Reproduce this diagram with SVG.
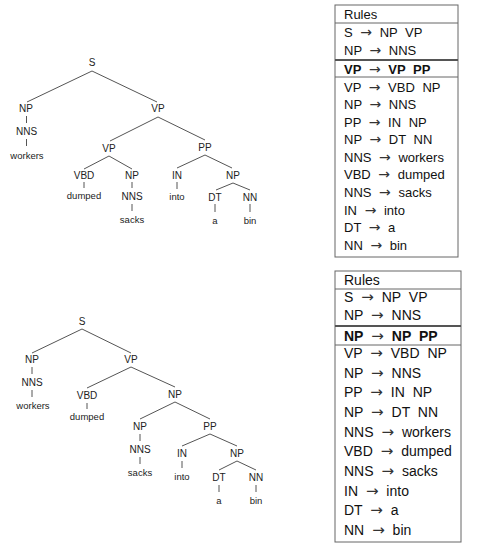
<svg xmlns="http://www.w3.org/2000/svg" width="503" height="555" viewBox="0 0 503 555">
<style>
.n text{font-family:"Liberation Sans",Arial,sans-serif;font-size:10px;text-anchor:middle;fill:#222}
.n text.w{font-size:9.5px}
.edges line{stroke:#555;stroke-width:1}
.box{fill:#fff;stroke:#666;stroke-width:1}
.sep{stroke:#666;stroke-width:1}
.sep2{stroke:#555;stroke-width:1.8}
.t1 text{font-family:"Liberation Sans",Arial,sans-serif;font-size:13px;fill:#111;word-spacing:4px}
.t2 text{font-family:"Liberation Sans",Arial,sans-serif;font-size:14px;fill:#111;word-spacing:4px}
.t1 .ar{font-family:"DejaVu Sans",sans-serif;font-size:14px;font-weight:normal;fill:#333}
.t2 .ar{font-family:"DejaVu Sans",sans-serif;font-size:15px;font-weight:normal;fill:#333}
.b{font-weight:bold}
</style>
<rect width="503" height="555" fill="#fff"/>

<!-- top tree connectors -->
<g id="top-edges" class="edges">
<line x1="92" y1="71" x2="27" y2="102"/>
<line x1="92" y1="71" x2="157" y2="102"/>
<line x1="26.5" y1="116" x2="26.5" y2="123"/>
<line x1="26.5" y1="139" x2="26.5" y2="146"/>
<line x1="158" y1="117" x2="110" y2="141"/>
<line x1="158" y1="117" x2="205" y2="140"/>
<line x1="109" y1="156" x2="84" y2="169"/>
<line x1="109" y1="156" x2="132" y2="169"/>
<line x1="84" y1="182" x2="84" y2="188"/>
<line x1="132" y1="182" x2="132" y2="188"/>
<line x1="132" y1="204" x2="132" y2="211"/>
<line x1="205" y1="155" x2="177" y2="168"/>
<line x1="205" y1="155" x2="232" y2="168"/>
<line x1="177" y1="182" x2="177" y2="189"/>
<line x1="233" y1="183" x2="216" y2="190"/>
<line x1="233" y1="183" x2="250" y2="190"/>
<line x1="215" y1="204" x2="215" y2="212"/>
<line x1="250" y1="204" x2="250" y2="212"/>
</g>

<!-- top tree nodes -->
<g id="t-S" class="n"><text x="92" y="65.6">S</text></g>
<g id="t-NP1" class="n"><text x="26" y="111.6">NP</text></g>
<g id="t-VP1" class="n"><text x="158" y="111.6">VP</text></g>
<g id="t-NNS1" class="n"><text x="26.5" y="134.6">NNS</text></g>
<g id="t-workers" class="n"><text class="w" x="27" y="159">workers</text></g>
<g id="t-VP2" class="n"><text x="109" y="151.6">VP</text></g>
<g id="t-PP" class="n"><text x="205" y="150.6">PP</text></g>
<g id="t-VBD" class="n"><text x="84" y="178.6">VBD</text></g>
<g id="t-NP3" class="n"><text x="132" y="178.6">NP</text></g>
<g id="t-dumped" class="n"><text class="w" x="84" y="199">dumped</text></g>
<g id="t-NNS3" class="n"><text x="132" y="199.6">NNS</text></g>
<g id="t-sacks" class="n"><text class="w" x="132" y="223">sacks</text></g>
<g id="t-IN" class="n"><text x="177" y="178.6">IN</text></g>
<g id="t-NP4" class="n"><text x="233" y="178.6">NP</text></g>
<g id="t-into" class="n"><text class="w" x="177" y="200">into</text></g>
<g id="t-DT" class="n"><text x="215" y="200.6">DT</text></g>
<g id="t-NN" class="n"><text x="250" y="200.6">NN</text></g>
<g id="t-a" class="n"><text class="w" x="215" y="224">a</text></g>
<g id="t-bin" class="n"><text class="w" x="250" y="224">bin</text></g>

<!-- bottom tree connectors -->
<g id="bottom-edges" class="edges">
<line x1="82" y1="329" x2="32" y2="353"/>
<line x1="82" y1="329" x2="131" y2="353"/>
<line x1="32" y1="367" x2="32" y2="374"/>
<line x1="32" y1="390" x2="32" y2="397"/>
<line x1="131" y1="367" x2="87" y2="388"/>
<line x1="131" y1="367" x2="175" y2="387"/>
<line x1="87" y1="403" x2="87" y2="409"/>
<line x1="175" y1="402" x2="140" y2="419"/>
<line x1="175" y1="402" x2="210" y2="419"/>
<line x1="140" y1="434" x2="140" y2="441"/>
<line x1="140" y1="457" x2="140" y2="464"/>
<line x1="210" y1="434" x2="182" y2="446"/>
<line x1="210" y1="434" x2="237" y2="446"/>
<line x1="182" y1="461" x2="182" y2="468"/>
<line x1="237" y1="461" x2="219" y2="470"/>
<line x1="237" y1="461" x2="256" y2="470"/>
<line x1="219" y1="485" x2="219" y2="492"/>
<line x1="256" y1="485" x2="256" y2="492"/>
</g>

<!-- bottom tree nodes -->
<g id="b-S" class="n"><text x="82" y="324.6">S</text></g>
<g id="b-NP1" class="n"><text x="32" y="362.6">NP</text></g>
<g id="b-VP" class="n"><text x="131" y="362.6">VP</text></g>
<g id="b-NNS1" class="n"><text x="32" y="385.6">NNS</text></g>
<g id="b-workers" class="n"><text class="w" x="33" y="409">workers</text></g>
<g id="b-VBD" class="n"><text x="87" y="398.6">VBD</text></g>
<g id="b-NP2" class="n"><text x="175" y="397.6">NP</text></g>
<g id="b-dumped" class="n"><text class="w" x="87" y="420">dumped</text></g>
<g id="b-NP3" class="n"><text x="140" y="429.6">NP</text></g>
<g id="b-PP" class="n"><text x="210" y="429.6">PP</text></g>
<g id="b-NNS3" class="n"><text x="140" y="452.6">NNS</text></g>
<g id="b-sacks" class="n"><text class="w" x="140" y="476">sacks</text></g>
<g id="b-IN" class="n"><text x="182" y="456.6">IN</text></g>
<g id="b-NP4" class="n"><text x="237" y="456.6">NP</text></g>
<g id="b-into" class="n"><text class="w" x="182" y="480">into</text></g>
<g id="b-DT" class="n"><text x="219" y="480.6">DT</text></g>
<g id="b-NN" class="n"><text x="256" y="480.6">NN</text></g>
<g id="b-a" class="n"><text class="w" x="219" y="504">a</text></g>
<g id="b-bin" class="n"><text class="w" x="256" y="504">bin</text></g>

<!-- top rules table -->
<g id="rules-top" class="t1">
<rect class="box" x="335" y="5" width="123" height="252"/>
<line class="sep" x1="335" y1="23" x2="458" y2="23"/>
<line class="sep2" x1="335" y1="60" x2="458" y2="60"/>
<line class="sep" x1="335" y1="77" x2="458" y2="77"/>
<text x="344" y="18.6">Rules</text>
<text x="344" y="36.6">S <tspan class="ar">→</tspan> NP VP</text>
<text x="344" y="54.6">NP <tspan class="ar">→</tspan> NNS</text>
<text x="344" y="73.6"><tspan class="b">VP</tspan> <tspan class="ar">→</tspan> <tspan class="b">VP PP</tspan></text>
<text x="344" y="91.6">VP <tspan class="ar">→</tspan> VBD NP</text>
<text x="344" y="109.2">NP <tspan class="ar">→</tspan> NNS</text>
<text x="344" y="126.7">PP <tspan class="ar">→</tspan> IN NP</text>
<text x="344" y="144.3">NP <tspan class="ar">→</tspan> DT NN</text>
<text x="344" y="161.8">NNS <tspan class="ar">→</tspan> workers</text>
<text x="344" y="179.4">VBD <tspan class="ar">→</tspan> dumped</text>
<text x="344" y="196.9">NNS <tspan class="ar">→</tspan> sacks</text>
<text x="344" y="214.5">IN <tspan class="ar">→</tspan> into</text>
<text x="344" y="232.1">DT <tspan class="ar">→</tspan> a</text>
<text x="344" y="249.6">NN <tspan class="ar">→</tspan> bin</text>
</g>

<!-- bottom rules table -->
<g id="rules-bottom" class="t2">
<rect class="box" x="335" y="271" width="126" height="271"/>
<line class="sep" x1="335" y1="289" x2="461" y2="289"/>
<line class="sep2" x1="335" y1="326" x2="461" y2="326"/>
<line class="sep" x1="335" y1="345" x2="461" y2="345"/>
<text x="344" y="285">Rules</text>
<text x="344" y="302">S <tspan class="ar">→</tspan> NP VP</text>
<text x="344" y="320">NP <tspan class="ar">→</tspan> NNS</text>
<text x="344" y="341"><tspan class="b">NP</tspan> <tspan class="ar">→</tspan> <tspan class="b">NP PP</tspan></text>
<text x="344" y="358">VP <tspan class="ar">→</tspan> VBD NP</text>
<text x="344" y="377.7">NP <tspan class="ar">→</tspan> NNS</text>
<text x="344" y="397.3">PP <tspan class="ar">→</tspan> IN NP</text>
<text x="344" y="417">NP <tspan class="ar">→</tspan> DT NN</text>
<text x="344" y="436.7">NNS <tspan class="ar">→</tspan> workers</text>
<text x="344" y="456.3">VBD <tspan class="ar">→</tspan> dumped</text>
<text x="344" y="476">NNS <tspan class="ar">→</tspan> sacks</text>
<text x="344" y="495.7">IN <tspan class="ar">→</tspan> into</text>
<text x="344" y="515.3">DT <tspan class="ar">→</tspan> a</text>
<text x="344" y="535">NN <tspan class="ar">→</tspan> bin</text>
</g>
</svg>
